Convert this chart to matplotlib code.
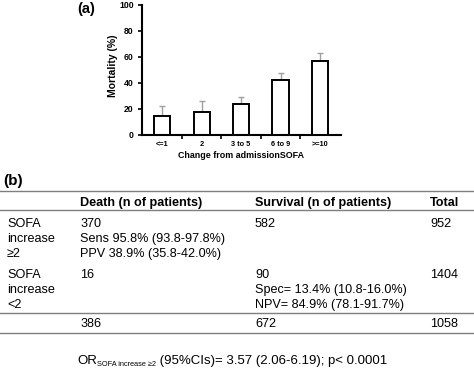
import matplotlib
matplotlib.use("Agg")
import matplotlib.pyplot as plt
import numpy as np

plt.rcParams['font.family'] = ['Liberation Sans', 'DejaVu Sans']

# ---- data ----
categories = ["<=1", "2", "3 to 5", "6 to 9", ">=10"]
mortality = [15, 18, 24, 42.5, 57]
upper_err = [7, 8, 5, 5.5, 6]

header = ["Death (n of patients)", "Survival (n of patients)", "Total"]
row1_label = ["SOFA", "increase", "\u22652"]
row1_death = ["370", "Sens 95.8% (93.8-97.8%)", "PPV 38.9% (35.8-42.0%)"]
row1_surv = ["582"]
row1_total = "952"
row2_label = ["SOFA", "increase", "<2"]
row2_death = ["16"]
row2_surv = ["90", "Spec= 13.4% (10.8-16.0%)", "NPV= 84.9% (78.1-91.7%)"]
row2_total = "1404"
totals = ["386", "672", "1058"]
or_main = "OR"
or_sub = "SOFA increase \u22652"
or_rest = " (95%CIs)= 3.57 (2.06-6.19); p< 0.0001"

W, H = 474, 368
fig = plt.figure(figsize=(W / 100, H / 100), dpi=100)

def fx(x):
    return x / W

def fy(y):
    return 1 - y / H

# ---- panel (a) ----
ax = fig.add_axes([fx(142), fy(135), fx(199), (135 - 5) / H])
x = np.arange(len(categories))
ax.bar(x, mortality, width=0.41, color="white", edgecolor="black", linewidth=1.4, zorder=2)
ax.errorbar(x, mortality, yerr=[np.zeros(len(x)), upper_err], fmt="none",
            ecolor="#a0a0a0", elinewidth=1.0, capsize=2.5, capthick=1.0, zorder=1)
ax.set_xlim(-0.51, 4.53)
ax.set_ylim(0, 100)
ax.set_yticks([0, 20, 40, 60, 80, 100])
ax.set_yticklabels(["0", "20", "40", "60", "80", "100"], fontsize=6.2, fontweight="bold")
ax.set_xticks(x)
ax.set_xticklabels(categories, fontsize=5.3, fontweight="bold")
ax.tick_params(axis="x", length=0, pad=4)
ax.set_xticks(np.arange(0.5, 4.5, 1), minor=True)
ax.tick_params(axis="x", which="minor", length=3, width=1.2, direction="out")
ax.tick_params(axis="y", length=3, width=1.2, direction="out", pad=3)
for s in ["top", "right"]:
    ax.spines[s].set_visible(False)
for s in ["left", "bottom"]:
    ax.spines[s].set_linewidth(1.5)

fig.text(fx(86), fy(9), "(a)", fontsize=10.5, fontweight="bold", ha="center", va="center")
fig.text(fx(113), fy(66), "Mortality (%)", fontsize=7.5, fontweight="bold",
         rotation=90, ha="center", va="center")
fig.text(fx(241), fy(155), "Change from admissionSOFA", fontsize=6.4, fontweight="bold",
         ha="center", va="center")

# ---- panel (b) ----
fig.text(fx(3), fy(181), "(b)", fontsize=11, fontweight="bold", ha="left", va="center")

line_col = "#7f7f7f"
for yy in [191, 210, 313, 333]:
    fig.add_artist(plt.Line2D([0, 1], [fy(yy), fy(yy)], color=line_col, linewidth=1.0,
                              transform=fig.transFigure))

fs = 9.1
col_x = [7, 80, 255, 430]

for cx, t in zip(col_x[1:], header):
    fig.text(fx(cx), fy(206), t, fontsize=fs, fontweight="bold", ha="left", va="baseline")

def put_lines(cx, y0, lines, step=15):
    for i, t in enumerate(lines):
        fig.text(fx(cx), fy(y0 + i * step), t, fontsize=fs, ha="left", va="baseline")

put_lines(col_x[0], 227, row1_label)
put_lines(col_x[1], 227, row1_death)
put_lines(col_x[2], 227, row1_surv)
put_lines(col_x[3], 227, [row1_total])

put_lines(col_x[0], 278, row2_label)
put_lines(col_x[1], 278, row2_death)
put_lines(col_x[2], 278, row2_surv)
put_lines(col_x[3], 278, [row2_total])

for cx, t in zip(col_x[1:], totals):
    fig.text(fx(cx), fy(327), t, fontsize=fs, ha="left", va="baseline")

# OR line with subscript
fig.canvas.draw()
r = fig.canvas.get_renderer()
x0 = 77
t1 = fig.text(fx(x0), fy(364), or_main, fontsize=9.5, ha="left", va="baseline")
w1 = t1.get_window_extent(r).width
t2 = fig.text(fx(x0 + w1), fy(366), or_sub, fontsize=5.3, ha="left", va="baseline")
w2 = t2.get_window_extent(r).width
fig.text(fx(x0 + w1 + w2), fy(364), or_rest, fontsize=9.5, ha="left", va="baseline")

fig.savefig("out.png", dpi=100)
